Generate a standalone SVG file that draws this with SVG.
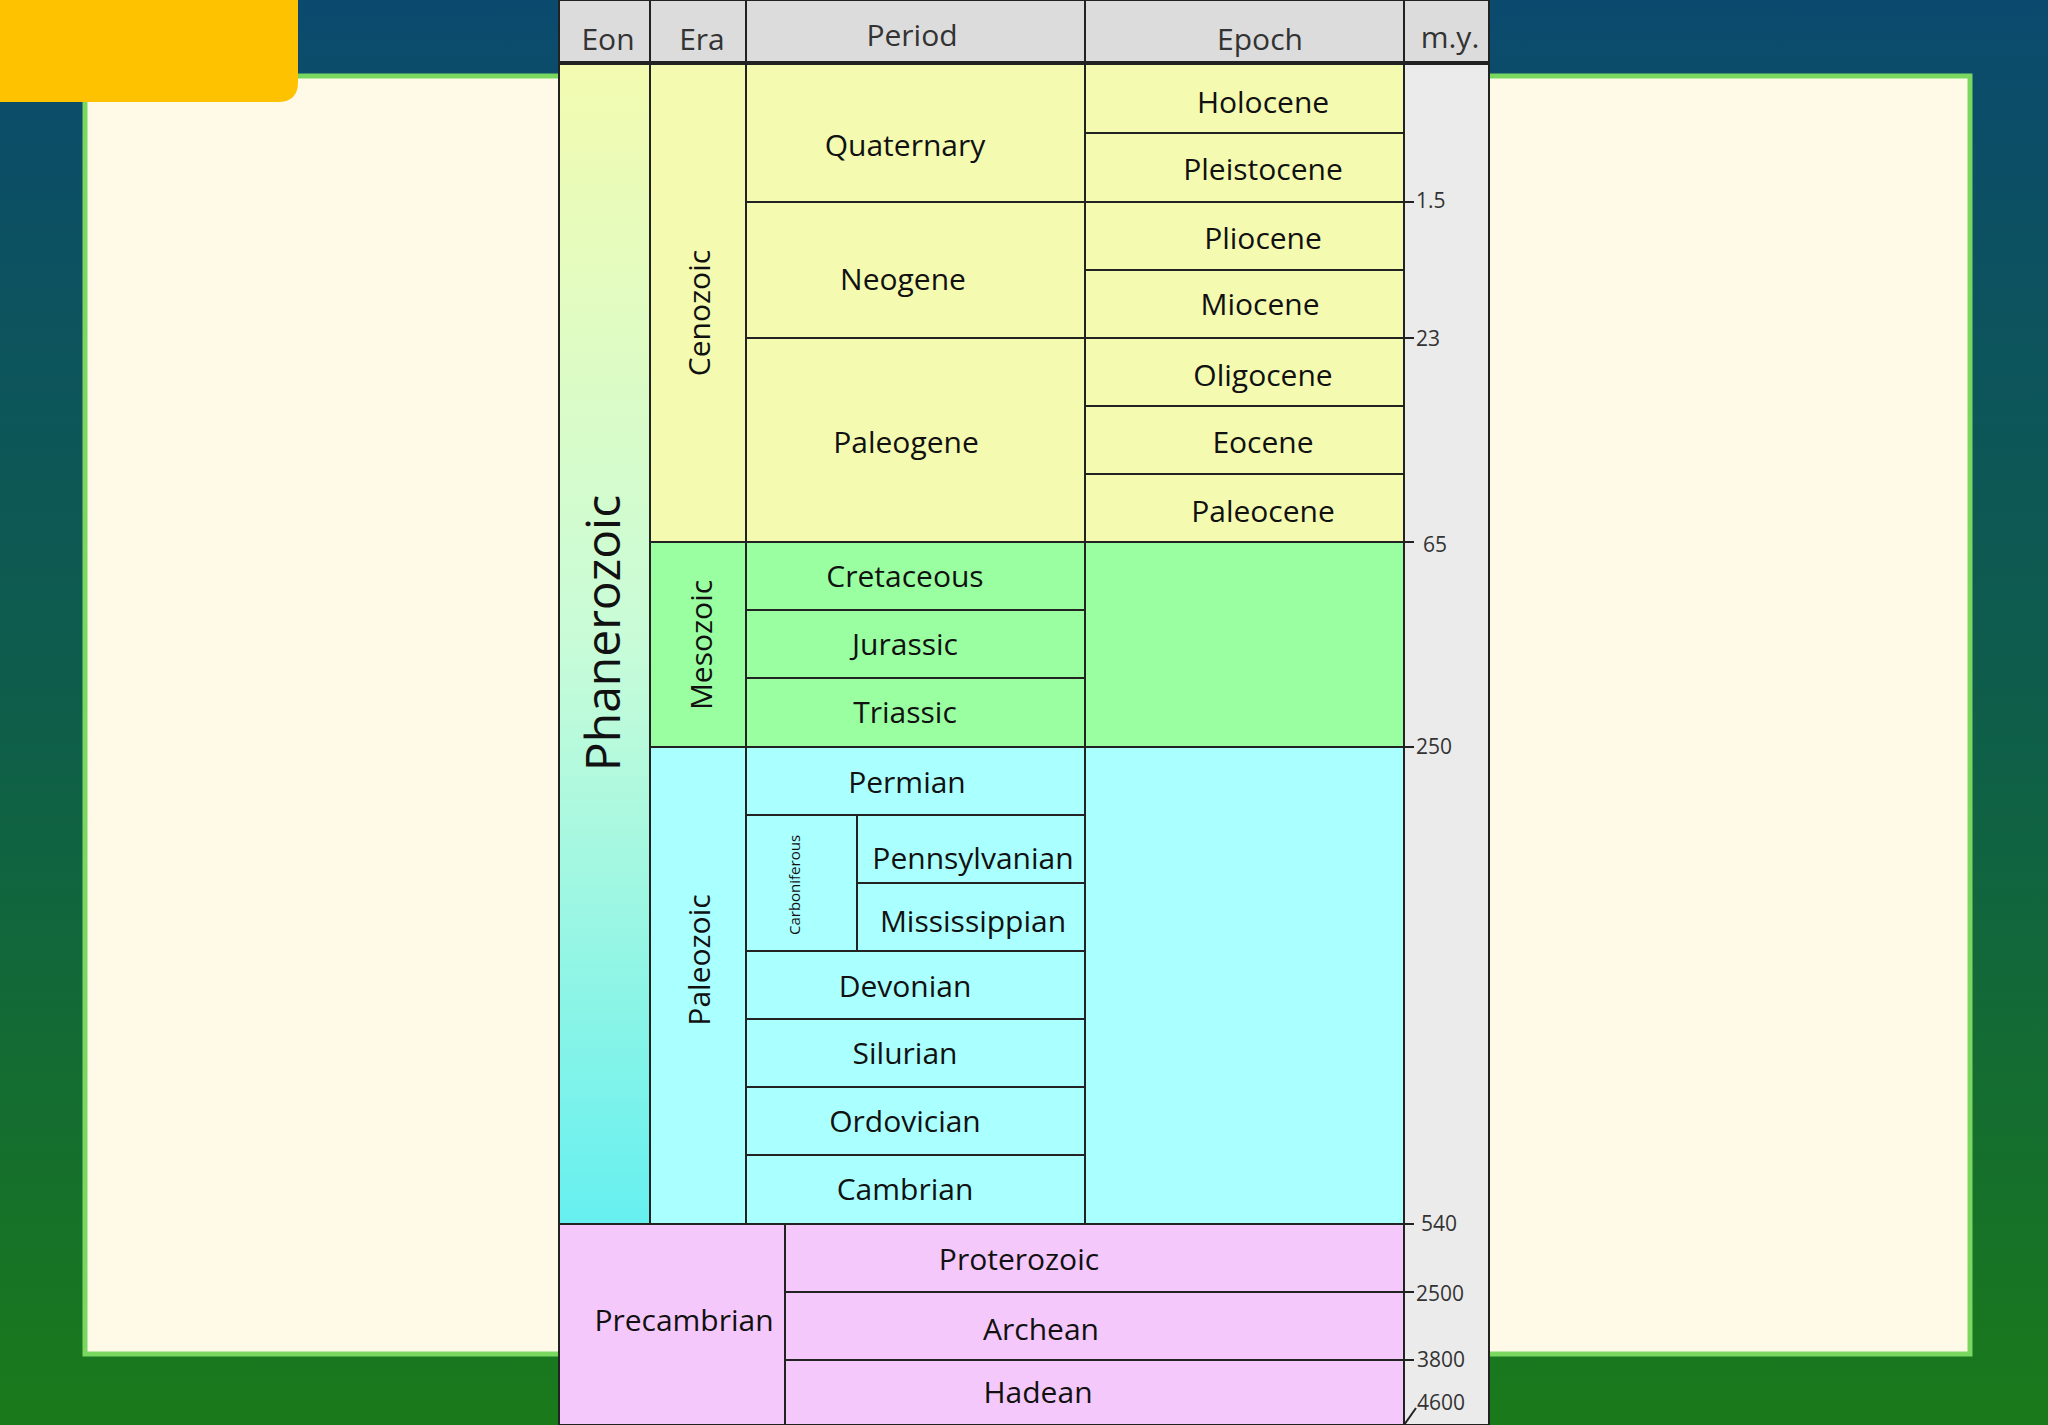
<svg xmlns="http://www.w3.org/2000/svg" width="2048" height="1425" viewBox="0 0 2048 1425">
<defs>
<linearGradient id="bg" x1="0" y1="0" x2="0" y2="1"><stop offset="0" stop-color="#0b4a6e"/><stop offset="0.5" stop-color="#0e5e4a"/><stop offset="1" stop-color="#1a7a1a"/></linearGradient>
<linearGradient id="eon" x1="0" y1="0" x2="0" y2="1"><stop offset="0" stop-color="#f3fbb0"/><stop offset="0.5" stop-color="#c8fcd8"/><stop offset="1" stop-color="#66f0f0"/></linearGradient>
<style>
text{font-family:"Open Sans","DejaVu Sans",sans-serif;fill:#111;text-anchor:middle;dominant-baseline:central}
.t{font-size:30px}.h{font-size:30px;fill:#333}.m{font-size:21px;text-anchor:start;fill:#333}
.ln{stroke:#222;stroke-width:2;fill:none}
.y{fill:#f4fbb0}.g{fill:#99ffa0}.c{fill:#aaffff}.p{fill:#f5c8fb}
</style>
</defs>
<rect width="2048" height="1425" fill="url(#bg)"/>
<rect x="85" y="76" width="1885" height="1278" fill="#fffae8" stroke="#7ad860" stroke-width="5"/>
<path d="M0 0H298V82Q298 102 278 102H0Z" fill="#ffc200"/>
<g id="table">
<rect x="559" y="0" width="930" height="63" fill="#dcdcdc"/>
<rect x="1404" y="63" width="85" height="1362" fill="#ebebeb"/>
<rect x="559" y="63" width="91" height="1161" fill="url(#eon)"/>
<rect x="650" y="63" width="754" height="479" class="y"/>
<rect x="650" y="542" width="754" height="205" class="g"/>
<rect x="650" y="747" width="754" height="477" class="c"/>
<rect x="559" y="1224" width="845" height="201" class="p"/>
</g>
<g id="connectors" class="ln">
<rect x="559" y="0" width="930" height="1425"/>
<line x1="559" y1="63" x2="1489" y2="63" stroke-width="4"/>
<line x1="650" y1="0" x2="650" y2="1224"/><line x1="746" y1="0" x2="746" y2="1224"/>
<line x1="1085" y1="0" x2="1085" y2="1224"/><line x1="1404" y1="0" x2="1404" y2="1425"/>
<line x1="785" y1="1224" x2="785" y2="1425"/><line x1="857" y1="815" x2="857" y2="951"/>
<line x1="1085" y1="133" x2="1404" y2="133"/><line x1="746" y1="202" x2="1414" y2="202"/>
<line x1="1085" y1="270" x2="1404" y2="270"/><line x1="746" y1="338" x2="1414" y2="338"/>
<line x1="1085" y1="406" x2="1404" y2="406"/><line x1="1085" y1="474" x2="1404" y2="474"/>
<line x1="650" y1="542" x2="1414" y2="542"/><line x1="746" y1="610" x2="1085" y2="610"/>
<line x1="746" y1="678" x2="1085" y2="678"/><line x1="650" y1="747" x2="1414" y2="747"/>
<line x1="746" y1="815" x2="1085" y2="815"/><line x1="857" y1="883" x2="1085" y2="883"/>
<line x1="746" y1="951" x2="1085" y2="951"/><line x1="746" y1="1019" x2="1085" y2="1019"/>
<line x1="746" y1="1087" x2="1085" y2="1087"/><line x1="746" y1="1155" x2="1085" y2="1155"/>
<line x1="559" y1="1224" x2="1414" y2="1224"/><line x1="785" y1="1292" x2="1414" y2="1292"/>
<line x1="785" y1="1360" x2="1414" y2="1360"/><line x1="1404" y1="1425" x2="1416" y2="1408"/>
</g>
<g id="labels">
<text x="608" y="38" class="h">Eon</text><text x="702" y="38" class="h">Era</text>
<text x="912" y="34" class="h">Period</text><text x="1260" y="38" class="h">Epoch</text>
<text x="1450" y="36" class="h">m.y.</text>
<text class="t" x="0" y="0" font-size="48" transform="translate(601,633) rotate(-90)" style="font-size:48px">Phanerozoic</text>
<text class="t" transform="translate(698,313) rotate(-90)">Cenozoic</text>
<text class="t" transform="translate(700,645) rotate(-90)">Mesozoic</text>
<text class="t" transform="translate(698,960) rotate(-90)">Paleozoic</text>
<text transform="translate(794,885) rotate(-90)" style="font-size:15px">Carboniferous</text>
<text class="t" x="905" y="144">Quaternary</text><text class="t" x="903" y="278">Neogene</text>
<text class="t" x="906" y="441">Paleogene</text><text class="t" x="905" y="575">Cretaceous</text>
<text class="t" x="905" y="643">Jurassic</text><text class="t" x="905" y="711">Triassic</text>
<text class="t" x="907" y="781">Permian</text><text class="t" x="973" y="857">Pennsylvanian</text>
<text class="t" x="973" y="920">Mississippian</text><text class="t" x="905" y="985">Devonian</text>
<text class="t" x="905" y="1052">Silurian</text><text class="t" x="905" y="1120">Ordovician</text>
<text class="t" x="905" y="1188">Cambrian</text>
<text class="t" x="1263" y="101">Holocene</text><text class="t" x="1263" y="168">Pleistocene</text>
<text class="t" x="1263" y="237">Pliocene</text><text class="t" x="1260" y="303">Miocene</text>
<text class="t" x="1263" y="374">Oligocene</text><text class="t" x="1263" y="441">Eocene</text>
<text class="t" x="1263" y="510">Paleocene</text>
<text class="t" x="684" y="1319">Precambrian</text><text class="t" x="1019" y="1258">Proterozoic</text>
<text class="t" x="1041" y="1328">Archean</text><text class="t" x="1038" y="1391">Hadean</text>
<text class="m" x="1416" y="200">1.5</text><text class="m" x="1416" y="338">23</text>
<text class="m" x="1423" y="544">65</text><text class="m" x="1416" y="746">250</text>
<text class="m" x="1421" y="1223">540</text><text class="m" x="1416" y="1293">2500</text>
<text class="m" x="1417" y="1359">3800</text><text class="m" x="1417" y="1402">4600</text>
</g>
</svg>
